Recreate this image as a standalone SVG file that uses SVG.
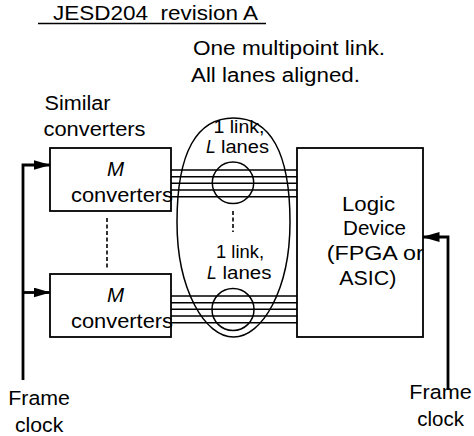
<svg xmlns="http://www.w3.org/2000/svg" width="474" height="436" viewBox="0 0 474 436">
<style>
  .t { font-family: "Liberation Sans", Arial, sans-serif; fill: #000; white-space: pre; }
  .f19 { font-size: 19.5px; }
  .f17 { font-size: 17.5px; }
  .f20 { font-size: 20.5px; }
  .it { font-style: italic; }
  .box { fill: #fff; stroke: #000; stroke-width: 1.8; }
  .thin { fill: none; stroke: #000; stroke-width: 1.5; }
  .lane { fill: none; stroke: #000; stroke-width: 1.6; }
  .dash { fill: none; stroke: #000; stroke-width: 1.6; stroke-dasharray: 4 2.5; }
  .clk { fill: none; stroke: #000; stroke-width: 2.8; marker-end: url(#arrow); }
</style>
<defs>
  <marker id="arrow" markerUnits="userSpaceOnUse" markerWidth="17" markerHeight="10" refX="16.5" refY="5" orient="auto">
    <path d="M0,0 L17,5 L0,10 Z" fill="#000"/>
  </marker>
</defs>
<rect width="474" height="436" fill="#fff"/>

<g id="title">
  <text class="t f19" x="53" y="20" textLength="205" lengthAdjust="spacingAndGlyphs">JESD204  revision A</text>
  <line x1="38" y1="23.5" x2="266" y2="23.5" stroke="#000" stroke-width="1.5"/>
</g>

<g id="link-caption">
  <text class="t f19" x="193" y="55" textLength="192" lengthAdjust="spacingAndGlyphs">One multipoint link.</text>
  <text class="t f19" x="191" y="82" textLength="169" lengthAdjust="spacingAndGlyphs">All lanes aligned.</text>
</g>

<g id="similar-caption">
  <text class="t f19" x="44.5" y="110" textLength="66" lengthAdjust="spacingAndGlyphs">Similar</text>
  <text class="t f19" x="43.5" y="136" textLength="102" lengthAdjust="spacingAndGlyphs">converters</text>
</g>

<g id="multipoint-link">
  <path class="thin" d="M233.5,118 C270,118 290,152 290,222 C290,290 262,337 233.5,337 C205,337 177,290 177,222 C177,152 197,118 233.5,118 Z"/>
</g>

<g id="node-conv-top">
  <rect class="box" x="50" y="148" width="121" height="63"/>
  <text class="t f20 it" x="107" y="176">M</text>
  <text class="t f20" x="71" y="201.7" textLength="102" lengthAdjust="spacingAndGlyphs">converters</text>
</g>

<g id="node-conv-bottom">
  <rect class="box" x="50" y="274" width="121" height="63"/>
  <text class="t f20 it" x="107" y="302.3">M</text>
  <text class="t f20" x="71" y="328" textLength="102" lengthAdjust="spacingAndGlyphs">converters</text>
</g>

<g id="node-logic">
  <rect class="box" x="297" y="148" width="126" height="189"/>
  <text class="t f20" x="342" y="211" textLength="53" lengthAdjust="spacingAndGlyphs">Logic</text>
  <text class="t f20" x="343" y="235.3" textLength="63" lengthAdjust="spacingAndGlyphs">Device</text>
  <text class="t f20" x="326.7" y="260" textLength="97" lengthAdjust="spacingAndGlyphs">(FPGA or</text>
  <text class="t f20" x="339.3" y="285" textLength="57" lengthAdjust="spacingAndGlyphs">ASIC)</text>
</g>

<g id="connectors">
  <path class="lane" d="M171,170 H297 M171,176.7 H297 M171,183.3 H297 M171,190 H297 M171,196.7 H297"/>
  <path class="lane" d="M171,296 H297 M171,302.7 H297 M171,309.3 H297 M171,316 H297 M171,322.7 H297"/>
  <line class="dash" x1="107" y1="218" x2="107" y2="268"/>
  <line class="dash" x1="233" y1="211" x2="233" y2="232"/>
  <path class="clk" d="M23,380 V165 H50"/>
  <path class="clk" d="M23,292.5 H50"/>
  <path class="clk" d="M448,390 V237 H423"/>
</g>

<g id="lane-groups">
  <circle class="thin" cx="233" cy="182.8" r="20.7"/>
  <circle class="thin" cx="233" cy="309.5" r="21"/>
</g>

<g id="link-labels">
  <text class="t f17" x="213.5" y="133.3" textLength="51" lengthAdjust="spacingAndGlyphs">1 link,</text>
  <text class="t f17 it" x="206" y="153.3">L</text>
  <text class="t f17" x="221" y="153.3" textLength="48" lengthAdjust="spacingAndGlyphs">lanes</text>
  <text class="t f17" x="216" y="258.3" textLength="48" lengthAdjust="spacingAndGlyphs">1 link,</text>
  <text class="t f17 it" x="207" y="278.5">L</text>
  <text class="t f17" x="222.5" y="278.5" textLength="49" lengthAdjust="spacingAndGlyphs">lanes</text>
</g>

<g id="frame-clock-left">
  <text class="t f20" x="8.3" y="405" textLength="61.7" lengthAdjust="spacingAndGlyphs">Frame</text>
  <text class="t f20" x="15" y="431.7" textLength="48.3" lengthAdjust="spacingAndGlyphs">clock</text>
</g>

<g id="frame-clock-right">
  <text class="t f20" x="409.3" y="399.3" textLength="62.4" lengthAdjust="spacingAndGlyphs">Frame</text>
  <text class="t f20" x="417.3" y="425.7" textLength="46.7" lengthAdjust="spacingAndGlyphs">clock</text>
</g>
</svg>
